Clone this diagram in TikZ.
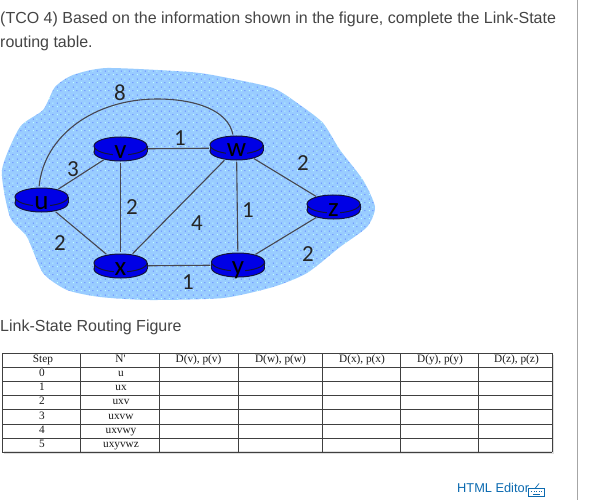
\documentclass[tikz,border=0pt]{standalone}
\usepackage{fontspec}
\setmainfont{Liberation Sans}
\newfontfamily\routerfont{Carlito}
\newfontfamily\tablefont{Liberation Serif}
\usetikzlibrary{shapes.geometric,patterns}
\definecolor{blobblue}{HTML}{99CCFF}
\definecolor{routerblue}{HTML}{0000E6}
\definecolor{routeredge}{HTML}{14143C}
\definecolor{linkgray}{HTML}{474750}
\definecolor{textgray}{HTML}{444444}
\definecolor{editorblue}{HTML}{0B6AB0}
\pgfdeclarepatternformonly{clouddots}{\pgfqpoint{0pt}{0pt}}{\pgfqpoint{8pt}{8pt}}{\pgfqpoint{8pt}{8pt}}{
	\pgfpathrectangle{\pgfqpoint{1pt}{1pt}}{\pgfqpoint{1pt}{1pt}}
	\pgfpathrectangle{\pgfqpoint{5pt}{5pt}}{\pgfqpoint{1pt}{1pt}}
	\pgfusepath{fill}}
\pgfdeclarepatternformonly{clouddotsb}{\pgfqpoint{0pt}{0pt}}{\pgfqpoint{8pt}{8pt}}{\pgfqpoint{8pt}{8pt}}{
	\pgfpathrectangle{\pgfqpoint{5pt}{1pt}}{\pgfqpoint{1pt}{1pt}}
	\pgfpathrectangle{\pgfqpoint{1pt}{5pt}}{\pgfqpoint{1pt}{1pt}}
	\pgfusepath{fill}}
\tikzset{
	router/.style={ellipse,minimum width=55pt,minimum height=27pt,inner sep=0pt},
	routerbody/.style={draw=routeredge,fill=routerblue,line width=1pt},
	routername/.style={anchor=base,yshift=-9pt,font=\routerfont\fontsize{27}{27}\selectfont,fill=routerblue,inner xsep=1pt,inner ysep=0pt,text=black,text height=10pt,text depth=0pt},
	weight/.style={font=\routerfont\fontsize{23}{23}\selectfont,text=black!85,inner sep=0pt},
	link/.style={linkgray,line width=1.1pt},
	question/.style={anchor=base west,inner sep=0pt,text=textgray,font=\fontsize{16}{16}\selectfont},
	cell/.style={font=\tablefont\fontsize{11.3}{12}\selectfont,text=black!90,inner sep=0pt,text height=7pt,text depth=2pt}
}
\begin{document}
\begin{tikzpicture}[x=1pt,y=-1pt]
	\useasboundingbox (0,0) rectangle (594,500);

	% Question text
	\node[question] (line1) at (0,24) {(TCO 4) Based on the information shown in the figure, complete the Link-State};
	\node[question] (line2) at (0,48) {routing table.};
	\draw[gray!70,line width=1pt] (577,0) -- (577,500);

	% Draw cloud
	\def\cloudpath{plot[smooth cycle,tension=0.4] coordinates {(2,170) (20,127) (43,110) (55,87) (73,75) (107,68) (190,72)
		(223,77) (273,88) (300,105) (323,123) (340,150) (363,180) (375,207) (367,227) (340,247) (307,273)
		(273,287) (223,298) (150,300) (100,297) (67,290) (43,273) (27,237) (10,217)}}
	\fill[blobblue] \cloudpath;
	\fill[pattern=clouddots,pattern color=cyan!25!white] \cloudpath;
	\fill[pattern=clouddotsb,pattern color=blue!35!blobblue] \cloudpath;

	% Draw routers
	\foreach \name/\px/\py in {u/41.5/200,v/120.5/149,w/236.5/148,x/120.5/266,y/238/265,z/333.5/207} {
		\begin{scope}[shift={(\px,\py)}]
			\draw[routerbody] (0,3) ellipse[x radius=26.5,y radius=9];
			\fill[routerblue] (-26,-3) rectangle (26,3);
			\draw[routeredge,line width=1pt] (-26.5,-3) -- (-26.5,3) (26.5,-3) -- (26.5,3);
			\draw[routerbody] (0,-3) ellipse[x radius=26.5,y radius=9];
		\end{scope}
		\node[router] (\name) at (\px,\py) {};
		\node[routername] (name\name) at (\px,\py) {\name};
	}

	% Draw links
	\draw[link] (u) -- (v);
	\draw[link] (u) -- (x);
	\draw[link] (v) -- (x);
	\draw[link] (v) -- (w);
	\draw[link] (x) -- (w);
	\draw[link] (x) -- (y);
	\draw[link] (w) -- (y);
	\draw[link] (w) -- (z);
	\draw[link] (y) -- (z);
	\draw[link] (u.100) .. controls (44,135) and (95,99) .. (157,99) .. controls (195,99) and (228,110) .. (w.105);

	% Label weights
	\node[weight] (weightuw) at (120,93) {8};
	\node[weight] (weightvw) at (180,138) {1};
	\node[weight] (weightuv) at (73,169) {3};
	\node[weight] (weightvx) at (132,207) {2};
	\node[weight] (weightxw) at (197,223) {4};
	\node[weight] (weightux) at (60,243) {2};
	\node[weight] (weightxy) at (188,282) {1};
	\node[weight] (weightwy) at (248,210) {1};
	\node[weight] (weightwz) at (303,163) {2};
	\node[weight] (weightyz) at (308,254) {2};

	\node[question] (caption) at (0,331) {Link-State Routing Figure};

	% Draw table
	\fill[gray!25] (4,451) rectangle (553.5,453.5);
	\fill[gray!25] (552,355) rectangle (553.5,453.5);
	\foreach \rowy in {353,367,381,395,409,424,438,452}
		\draw[black!75,line width=0.9pt] (2,\rowy) -- (552,\rowy);
	\foreach \colx in {2,80,159,238,322,400,478,552}
		\draw[black!75,line width=0.9pt] (\colx,353) -- (\colx,452);

	% Label table
	\foreach \colx/\name/\txt in {43/a/Step,120.5/b/N',198.5/c/{D(v), p(v)},280.5/d/{D(w), p(w)},362/e/{D(x), p(x)},440/f/{D(y), p(y)},516.5/g/{D(z), p(z)}}
		\node[cell] (head\name) at (\colx,360) {\txt};
	\foreach \rowy/\stepname/\nset in {374/0/u,388/1/ux,402/2/uxv,416.5/3/uxvw,431/4/uxvwy,445/5/uxyvwz} {
		\node[cell] (step\stepname) at (42,\rowy) {\stepname};
		\node[cell] (set\stepname) at (121,\rowy) {\nset};
	}

	% Editor link and keyboard
	\node[anchor=base west,inner sep=0pt,text=editorblue,font=\fontsize{12.8}{15}\selectfont] (editor) at (457,492) {HTML Editor};
	\draw[editorblue,line width=0.7pt] (528.5,488.5) rectangle (544,496.5);
	\draw[editorblue,line width=0.7pt] (535,488.5) -- (539,483.5);
	\foreach \keyx in {531,533.5,536,538.5,541}
		\fill[editorblue] (\keyx,490.5) rectangle +(1.3,1.3);
	\fill[editorblue] (533,493.5) rectangle (540,494.8);
\end{tikzpicture}
\end{document}
